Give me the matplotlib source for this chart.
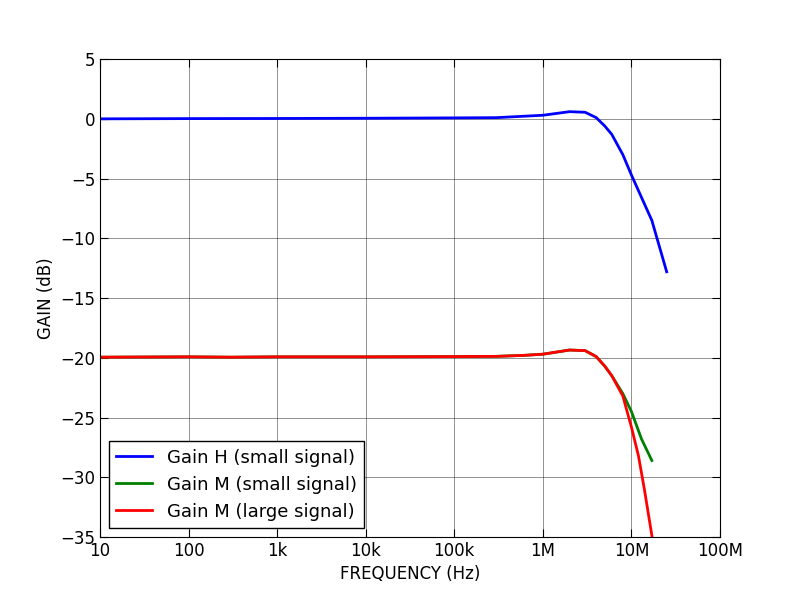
import matplotlib
matplotlib.use("Agg")
import matplotlib.pyplot as plt

# frequency points (Hz)
freq_h = [10, 100, 1e3, 1e4, 1e5, 3e5, 1e6, 2e6, 3e6, 4e6, 5e6, 6e6, 8e6, 1e7, 1.7e7, 2.5e7]
gain_h = [0.0, 0.02, 0.03, 0.05, 0.08, 0.1, 0.3, 0.6, 0.55, 0.1, -0.6, -1.3, -3.0, -4.7, -8.5, -12.8]

freq_m = [10, 100, 300, 1e3, 1e4, 1e5, 3e5, 6e5, 1e6, 2e6, 3e6, 4e6, 5e6, 6e6, 8e6, 1e7, 1.3e7, 1.7e7]
gain_m_small = [-19.95, -19.92, -19.95, -19.92, -19.92, -19.9, -19.88, -19.8, -19.7, -19.35, -19.4, -19.9, -20.7, -21.5, -23.0, -24.5, -26.8, -28.6]

freq_ml = [10, 100, 300, 1e3, 1e4, 1e5, 3e5, 6e5, 1e6, 2e6, 3e6, 4e6, 5e6, 6e6, 8e6, 1e7, 1.2e7, 1.4e7, 1.8e7]
gain_m_large = [-19.95, -19.92, -19.95, -19.92, -19.92, -19.9, -19.88, -19.8, -19.7, -19.35, -19.4, -19.9, -20.7, -21.5, -23.2, -25.8, -28.2, -31.0, -36.0]

tick_pos = [10, 100, 1e3, 1e4, 1e5, 1e6, 1e7, 1e8]
tick_lbl = ["10", "100", "1k", "10k", "100k", "1M", "10M", "100M"]

fig = plt.figure(figsize=(8, 5.97), dpi=100)
fig.subplots_adjust(left=0.125, right=0.9, bottom=0.1005, top=0.901)
ax = fig.add_subplot(111)

ax.semilogx(freq_h, gain_h, color="blue", lw=2, label="Gain H (small signal)")
ax.semilogx(freq_m, gain_m_small, color="green", lw=2, label="Gain M (small signal)")
ax.semilogx(freq_ml, gain_m_large, color="red", lw=2, label="Gain M (large signal)")

ax.set_xlim(10, 1e8)
ax.set_ylim(-35, 5)
ax.set_xticks(tick_pos)
ax.set_xticklabels(tick_lbl)
ax.minorticks_off()
ax.set_yticks(range(-35, 6, 5))
ax.yaxis.set_major_formatter(matplotlib.ticker.FuncFormatter(lambda v, p: f"{int(v)}".replace("-", "\u2212")))
ax.tick_params(direction="in", top=True, right=True, labelsize=12, length=6)
ax.grid(True, color="black", linestyle="-", linewidth=0.5, alpha=0.6)

ax.set_xlabel("FREQUENCY (Hz)", fontsize=12)
ax.set_ylabel("GAIN (dB)", fontsize=12)

leg = ax.legend(loc="lower left", fontsize=13, fancybox=False, framealpha=1)
leg.get_frame().set_edgecolor("black")

fig.savefig("out.png", dpi=100)
